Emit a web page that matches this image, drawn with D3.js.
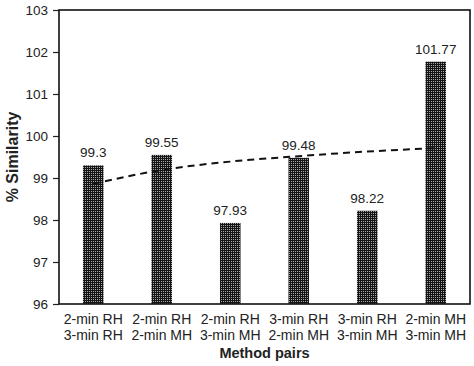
<!DOCTYPE html>
<html>
<head>
<meta charset="utf-8">
<script src="https://cdn.jsdelivr.net/npm/d3@7"></script>
<style>
  body { margin: 0; background: #fff; }
  text { font-family: "Liberation Sans", Arial, sans-serif; fill: #222; }
</style>
</head>
<body>
<div id="chart"></div>
<script>
// data
const pairTop = ["2-min RH", "2-min RH", "2-min RH", "3-min RH", "3-min RH", "2-min MH"];
const pairBottom = ["3-min RH", "2-min MH", "3-min MH", "2-min MH", "3-min MH", "3-min MH"];
const similarity = [99.3, 99.55, 97.93, 99.48, 98.22, 101.77];
const trend = [98.86, 99.19, 99.39, 99.52, 99.63, 99.71];
const yTicks = [96, 97, 98, 99, 100, 101, 102, 103];

const width = 474, height = 366;
const margin = {top: 10, right: 4, bottom: 62, left: 59};

const svg = d3.select("#chart").append("svg")
    .attr("width", width)
    .attr("height", height);

// checkered fill like the original bars
const pat = svg.append("defs").append("pattern")
    .attr("id", "check")
    .attr("patternUnits", "userSpaceOnUse")
    .attr("width", 2).attr("height", 2);
pat.append("rect").attr("width", 2).attr("height", 2).attr("fill", "#151515");
pat.append("rect").attr("x", 1).attr("y", 1).attr("width", 1).attr("height", 1).attr("fill", "#a8a8a8");

const idx = d3.range(similarity.length);

const x = d3.scaleBand()
    .domain(idx)
    .range([margin.left, width - margin.right])
    .paddingInner(0.7)
    .paddingOuter(0.35);

const y = d3.scaleLinear()
    .domain([96, 103])
    .range([height - margin.bottom, margin.top]);

// bars
svg.append("g").selectAll("rect")
    .data(idx)
    .join("rect")
    .attr("x", i => x(i))
    .attr("y", i => y(similarity[i]))
    .attr("width", x.bandwidth())
    .attr("height", i => y(96) - y(similarity[i]))
    .attr("fill", "url(#check)");

// value labels
svg.append("g").selectAll("text")
    .data(idx)
    .join("text")
    .attr("x", i => x(i) + x.bandwidth() / 2)
    .attr("y", i => y(similarity[i]) - 8)
    .attr("text-anchor", "middle")
    .attr("font-size", 13.5)
    .text(i => similarity[i]);

// dashed trend line
svg.append("path")
    .datum(idx)
    .attr("fill", "none")
    .attr("stroke", "#111")
    .attr("stroke-width", 2)
    .attr("stroke-dasharray", "7,5")
    .attr("d", d3.line()
        .x(i => x(i) + x.bandwidth() / 2)
        .y(i => y(trend[i]))
        .curve(d3.curveMonotoneX));

// y axis
const yAxis = svg.append("g")
    .attr("transform", `translate(${margin.left},0)`)
    .call(d3.axisLeft(y).tickValues(yTicks).tickFormat(d3.format("d")).tickSize(6).tickPadding(5));
yAxis.select(".domain").remove();
yAxis.selectAll("line").attr("stroke", "#222").attr("stroke-width", 1.2);
yAxis.selectAll("text").attr("font-size", 13.5).style("fill", "#222");

// frame
svg.append("rect")
    .attr("x", margin.left)
    .attr("y", margin.top)
    .attr("width", width - margin.right - margin.left)
    .attr("height", y(96) - margin.top)
    .attr("fill", "none")
    .attr("stroke", "#111")
    .attr("stroke-width", 1.6);

// category labels (two lines)
const cat = svg.append("g").selectAll("text")
    .data(idx)
    .join("text")
    .attr("text-anchor", "middle")
    .attr("font-size", 14);
cat.append("tspan")
    .attr("x", i => x(i) + x.bandwidth() / 2)
    .attr("y", 324)
    .text(i => pairTop[i]);
cat.append("tspan")
    .attr("x", i => x(i) + x.bandwidth() / 2)
    .attr("y", 340)
    .text(i => pairBottom[i]);

// axis titles
svg.append("text")
    .attr("x", (margin.left + width - margin.right) / 2)
    .attr("y", 358)
    .attr("text-anchor", "middle")
    .attr("font-size", 14.5)
    .attr("font-weight", "bold")
    .text("Method pairs");

svg.append("text")
    .attr("transform", `translate(18,${(margin.top + y(96)) / 2}) rotate(-90)`)
    .attr("text-anchor", "middle")
    .attr("font-size", 16)
    .attr("font-weight", "bold")
    .text("% Similarity");
</script>
</body>
</html>
